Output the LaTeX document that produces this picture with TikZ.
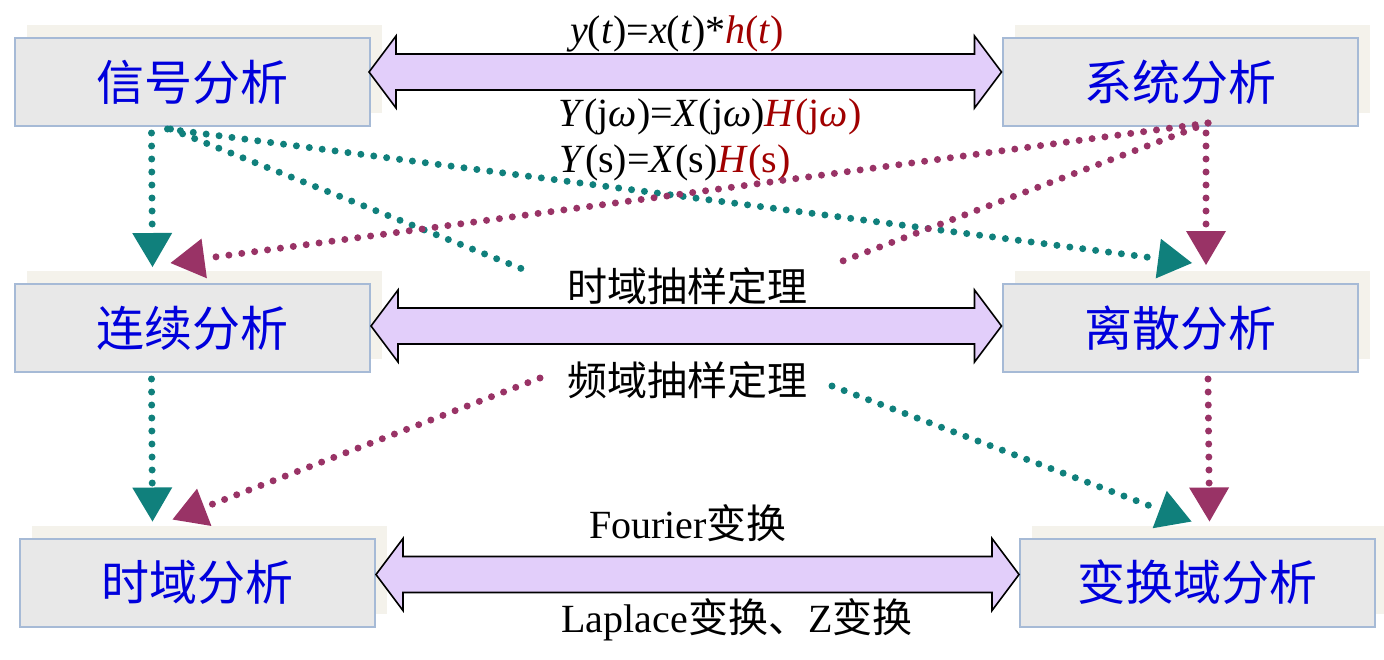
\documentclass[tikz,border=0pt]{standalone}
\usepackage{fontspec}
\setmainfont{Liberation Serif}
\newfontfamily\cjk{Noto Sans CJK SC}
\usetikzlibrary{arrows.meta,calc,shadows}

\definecolor{boxfill}{RGB}{232,232,232}
\definecolor{boxline}{RGB}{166,186,214}
\definecolor{shadowbeige}{RGB}{244,242,235}
\definecolor{labelblue}{RGB}{0,0,220}
\definecolor{lavender}{RGB}{226,206,250}
\definecolor{tealc}{RGB}{16,128,124}
\definecolor{plum}{RGB}{153,51,102}
\definecolor{darkred}{RGB}{160,0,0}

% double block arrow between two named points
\newcommand{\bigdarrow}[2]{%
  \draw[bigarrow] (#1) -- ++(27,-36) -- ++(0,18) -- ($(#2)+(-27,-18)$)
    -- ++(0,-18) -- (#2) -- ++(-27,36) -- ++(0,-18) -- ($(#1)+(27,18)$)
    -- ++(0,18) -- cycle;}

\begin{document}
\begin{tikzpicture}[x=0.5pt,y=-0.5pt,
  box/.style={draw=boxline,fill=boxfill,line width=1pt,minimum width=177.5pt,
    minimum height=44pt,inner sep=0pt,text=labelblue,font=\cjk\fontsize{24}{28}\selectfont,
    general shadow={shadow xshift=6pt,shadow yshift=6.5pt,fill=shadowbeige}},
  midtext/.style={inner sep=0pt,font=\fontsize{20}{24}\selectfont},
  bigarrow/.style={draw=black,fill=lavender,line width=0.8pt,line join=miter},
  tealdots/.style={draw=tealc,line width=3.5pt,line cap=round,dash pattern=on 0pt off 6.5pt},
  plumdots/.style={draw=plum,line width=3.5pt,line cap=round,dash pattern=on 0pt off 6.5pt},
  tip/.style={-{Triangle[length=17pt,width=20pt,line width=0pt]}}]
\useasboundingbox (0,0) rectangle (1384,659);

% Boxes (left column)
\node[box] (sig) at (192.5,82) {信号分析};
\node[box] (cont) at (192.5,328) {连续分析};
\node[box] (time) at (197.5,582.5) {时域分析};

% Boxes (right column)
\node[box] (sys) at (1180,82) {系统分析};
\node[box] (disc) at (1180,328) {离散分析};
\node[box] (trans) at (1197.5,582.5) {变换域分析};

% Double arrows
\coordinate (a1) at ($(sig.east)+(-2,-10)$);
\coordinate (b1) at ($(sys.west)+(0,-10)$);
\coordinate (a2) at ($(cont.east)+(0,-2)$);
\coordinate (b2) at ($(disc.west)+(0,-2)$);
\coordinate (a3) at ($(time.east)+(0,-8)$);
\coordinate (b3) at ($(trans.west)+(0,-8)$);
\bigdarrow{a1}{b1}
\bigdarrow{a2}{b2}
\bigdarrow{a3}{b3}

% Labels on the arrows
\node[midtext] (conv) at (677,34) {\textit{y}(\textit{t})=\textit{x}(\textit{t})*{\color{darkred}\textit{h}(\textit{t})}};
\node[midtext] (freq) at (710,117) {\textit{Y}(j\textit{ω})=\textit{X}(j\textit{ω}){\color{darkred}\textit{H}(j\textit{ω})}};
\node[midtext] (lap) at (675,163) {\textit{Y}(s)=\textit{X}(s){\color{darkred}\textit{H}(s)}};
\node[midtext] (tsamp) at (687,286) {\cjk 时域抽样定理};
\node[midtext] (fsamp) at (687,380) {\cjk 频域抽样定理};
\node[midtext] (four) at (688,523) {Fourier{\cjk 变换}};
\node[midtext] (lapz) at (737,620) {Laplace{\cjk 变换、}Z{\cjk 变换}};

% Free ends of the dotted lines
\coordinate (tEnd) at (530,272);
\coordinate (pEnd) at (840,262);
\coordinate (fL) at (540,378);
\coordinate (fR) at (832,386);

% Teal dotted lines
\draw[tealdots,tip] ($(sig.south)+(-41,6)$) -- ($(cont.north)+(-40,-16)$);
\draw[tealdots,tip] ($(sig.south)+(-25,2)$) -- ($(disc.north)+(12,-20)$);
\draw[tealdots] ($(sig.south)+(-22,2)$) -- (tEnd);
\draw[tealdots,tip] ($(cont.south)+(-41,6)$) -- ($(time.north)+(-45,-16)$);
\draw[tealdots,tip] (fR) -- ($(trans.north)+(-6,-16)$);

% Plum dotted lines
\draw[plumdots,tip] ($(sys.south)+(28,-4)$) -- ($(cont.north)+(-22,-20)$);
\draw[plumdots] ($(sys.south)+(28,-4)$) -- (pEnd);
\draw[plumdots,tip] ($(sys.south)+(26,6)$) -- ($(disc.north)+(26,-18)$);
\draw[plumdots,tip] ($(disc.south)+(28,6)$) -- ($(trans.north)+(12,-16)$);
\draw[plumdots,tip] (fL) -- ($(time.north)+(-25,-18)$);

\end{tikzpicture}
\end{document}
